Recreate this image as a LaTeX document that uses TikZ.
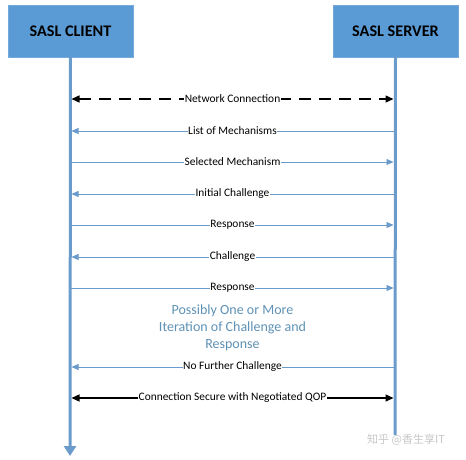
\documentclass[tikz,border=0pt]{standalone}
\usepackage{fontspec}
\setmainfont{Carlito}
\newfontfamily\cjk{Noto Sans CJK SC}
\usetikzlibrary{arrows.meta}

\definecolor{boxblue}{HTML}{5B9BD5}
\definecolor{lineblue}{HTML}{6A9BCB}
\definecolor{noteblue}{HTML}{5E91B5}

\begin{document}
\begin{tikzpicture}[x=1pt,y=-1pt,
  actor/.style={fill=boxblue, draw=boxblue!85!white, minimum width=125pt, minimum height=52pt,
    font=\bfseries\fontsize{16.2}{19}\selectfont},
  life/.style={lineblue, line width=3pt},
  msg/.style={lineblue, line width=0.8pt, shorten >=1.5pt, -{Triangle[length=7pt,width=6pt]}},
  both/.style={black, line width=1.4pt, shorten >=1.5pt, shorten <=1.5pt,
    {Triangle[length=8pt,width=7pt]}-{Triangle[length=8pt,width=7pt]}},
  lbl/.style={fill=white, inner sep=0.6pt, font=\fontsize{11.4}{13}\selectfont, text=black}]
\useasboundingbox (0,0) rectangle (466,459);
%\draw[gray!30] (0,0) grid[step=50] (466,459);

% the two parties
\node[actor] (client) at (70.5,31) {SASL CLIENT};
\node[actor] (server) at (395.5,31) {SASL SERVER};

% points on the lifelines
\foreach \i/\y in {1/99,2/131,3/162,4/194,5/225,6/257,7/288,8/367,9/398}{
  \coordinate (c\i) at (70,\y);
  \coordinate (s\i) at (395,\y);
}
\coordinate (cend) at (70,456);
\coordinate (send) at (395,435);

\draw[life, -{Triangle[length=10pt,width=12pt]}] (client.south) -- (cend);
\draw[life] (server.south) -- (send);

% messages
\draw[both, dash pattern=on 12pt off 8pt] (c1) -- node[lbl] {Network Connection} (s1);
\draw[msg] (s2) -- node[lbl] {List of Mechanisms} (c2);
\draw[msg] (c3) -- node[lbl] {Selected Mechanism} (s3);
\draw[msg] (s4) -- node[lbl] {Initial Challenge} (c4);
\draw[msg] (c5) -- node[lbl] {Response} (s5);
\draw[msg] (s6) -- node[lbl] {Challenge} (c6);
\draw[msg] (c7) -- node[lbl] {Response} (s7);

\node[text=noteblue, align=center, font=\fontsize{14}{17}\selectfont] (loop) at (232.5,328)
  {Possibly One or More\\ Iteration of Challenge and\\ Response};

\draw[msg] (s8) -- node[lbl] {No Further Challenge} (c8);
\draw[both] (c9) -- node[lbl] {Connection Secure with Negotiated QOP} (s9);

% watermark
\node[text=gray!45, font=\cjk\fontsize{11}{13}\selectfont] (mark) at (406,440) {知乎 @香生享IT};
\end{tikzpicture}
\end{document}
